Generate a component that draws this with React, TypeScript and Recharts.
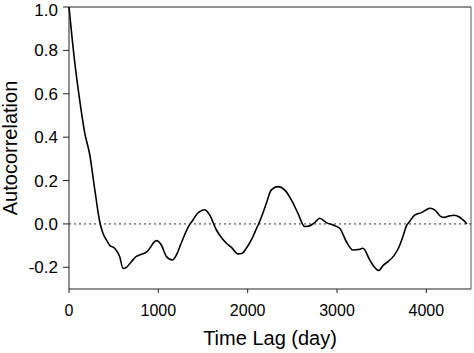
import React from 'react';
import { LineChart, Line, XAxis, YAxis, ReferenceLine } from 'recharts';

const lags = [0, 60, 120, 176, 232, 288, 344, 380, 420, 455, 511, 567, 605, 642, 698, 754, 810, 866, 900, 940, 978, 1034, 1090, 1157, 1202, 1250, 1295, 1340, 1388, 1430, 1463, 1519, 1575, 1650, 1710, 1762, 1818, 1892, 1940, 1985, 2041, 2100, 2134, 2175, 2209, 2265, 2340, 2414, 2489, 2563, 2638, 2694, 2750, 2806, 2881, 2955, 3030, 3105, 3179, 3240, 3291, 3366, 3420, 3465, 3520, 3571, 3640, 3690, 3738, 3776, 3813, 3869, 3944, 4000, 4037, 4080, 4112, 4160, 4200, 4261, 4310, 4373, 4420, 4455];
const acf = [1.0, 0.76, 0.57, 0.42, 0.32, 0.16, 0.01, -0.043, -0.075, -0.098, -0.112, -0.15, -0.205, -0.2, -0.174, -0.15, -0.14, -0.13, -0.115, -0.09, -0.077, -0.097, -0.15, -0.166, -0.143, -0.095, -0.05, -0.01, 0.018, 0.045, 0.057, 0.065, 0.041, -0.028, -0.065, -0.089, -0.108, -0.138, -0.135, -0.112, -0.074, -0.02, 0.011, 0.055, 0.095, 0.157, 0.172, 0.157, 0.111, 0.049, -0.012, -0.009, 0.006, 0.026, 0.006, -0.005, -0.02, -0.082, -0.12, -0.118, -0.112, -0.166, -0.2, -0.215, -0.19, -0.174, -0.145, -0.11, -0.058, -0.01, 0.011, 0.041, 0.052, 0.065, 0.072, 0.068, 0.057, 0.035, 0.03, 0.037, 0.04, 0.031, 0.015, 0.0];

const xTicks = [0, 1000, 2000, 3000, 4000];
const yTicks = [-0.2, 0, 0.2, 0.4, 0.6, 0.8, 1.0];
const xDomain = [0, 4500];
const yDomain = [-0.3, 1.0];

const data = lags.map((lag, i) => ({ lag, acf: acf[i] }));

const FONT = '"Liberation Sans", Arial, sans-serif';

export default function App() {
  return (
    <div style={{ position: 'absolute', left: 0, top: 0, background: '#fff' }}>
      <LineChart width={474} height={353} data={data} margin={{ top: 7, right: 3, bottom: 0, left: 0 }}>
        <XAxis
          dataKey="lag"
          type="number"
          domain={xDomain}
          ticks={xTicks}
          height={64}
          stroke="#222"
          tickSize={4}
          tickMargin={12}
          tick={{ fill: '#000', fontSize: 16, fontFamily: FONT }}
          label={({ viewBox }: any) => (
            <text x={viewBox.x + viewBox.width / 2} y={viewBox.y + 56} textAnchor="middle" fontSize={20} fontFamily={FONT} fill="#000">
              Time Lag (day)
            </text>
          )}
        />
        <YAxis
          type="number"
          domain={yDomain}
          ticks={yTicks}
          width={69}
          stroke="#222"
          tickSize={6}
          tickMargin={5}
          tickFormatter={(v: number) => v.toFixed(1)}
          tick={{ fill: '#000', fontSize: 17, fontFamily: FONT }}
          label={({ viewBox }: any) => {
            const cx = 17;
            const cy = viewBox.y + viewBox.height / 2;
            return (
              <text x={cx} y={cy} transform={`rotate(-90 ${cx} ${cy})`} textAnchor="middle" fontSize={20} fontFamily={FONT} fill="#000">
                Autocorrelation
              </text>
            );
          }}
        />
        <ReferenceLine y={1} stroke="#222" strokeWidth={1} />
        <ReferenceLine x={4500} stroke="#555" strokeWidth={1} />
        <ReferenceLine y={0} stroke="#333" strokeDasharray="2 3" strokeWidth={1} />
        <Line type="monotone" dataKey="acf" stroke="#000" strokeWidth={1.6} dot={false} isAnimationActive={false} />
      </LineChart>
    </div>
  );
}
